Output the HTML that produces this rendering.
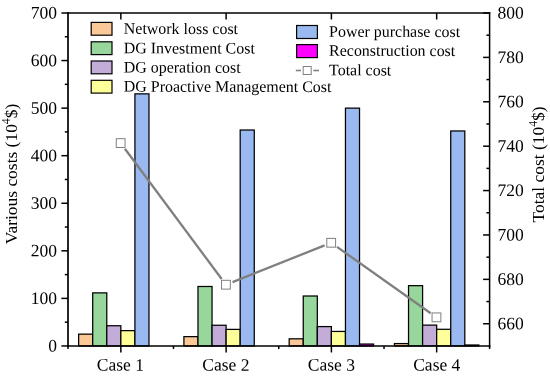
<!DOCTYPE html>
<html><head><meta charset="utf-8"><title>Costs chart</title>
<style>
html,body{margin:0;padding:0;background:#fff;}
svg{display:block;font-family:"Liberation Serif","Times New Roman",serif;fill:#000;}
</style></head><body>
<svg width="550" height="376" viewBox="0 0 550 376">
<rect x="0" y="0" width="550" height="376" fill="#fff"/>

<g stroke="#000" stroke-width="1.25">
<rect x="78.64" y="334.15" width="14.07" height="11.80" fill="#FBC898"/>
<rect x="92.71" y="292.87" width="14.07" height="53.08" fill="#98D79B"/>
<rect x="106.78" y="325.74" width="14.07" height="20.21" fill="#C3ADD8"/>
<rect x="120.85" y="330.63" width="14.07" height="15.32" fill="#FFFF99"/>
<rect x="134.92" y="93.86" width="14.07" height="252.09" fill="#99B9F0"/>
<rect x="183.91" y="336.63" width="14.07" height="9.32" fill="#FBC898"/>
<rect x="197.98" y="286.49" width="14.07" height="59.46" fill="#98D79B"/>
<rect x="212.05" y="325.26" width="14.07" height="20.69" fill="#C3ADD8"/>
<rect x="226.12" y="329.40" width="14.07" height="16.55" fill="#FFFF99"/>
<rect x="240.19" y="130.01" width="14.07" height="215.94" fill="#99B9F0"/>
<rect x="289.18" y="338.82" width="14.07" height="7.13" fill="#FBC898"/>
<rect x="303.25" y="296.01" width="14.07" height="49.94" fill="#98D79B"/>
<rect x="317.32" y="326.59" width="14.07" height="19.36" fill="#C3ADD8"/>
<rect x="331.39" y="331.44" width="14.07" height="14.51" fill="#FFFF99"/>
<rect x="345.46" y="108.13" width="14.07" height="237.82" fill="#99B9F0"/>
<rect x="359.53" y="344.05" width="14.07" height="1.90" fill="#FF00FF"/>
<rect x="394.45" y="343.57" width="14.07" height="2.38" fill="#FBC898"/>
<rect x="408.52" y="285.64" width="14.07" height="60.31" fill="#98D79B"/>
<rect x="422.59" y="325.12" width="14.07" height="20.83" fill="#C3ADD8"/>
<rect x="436.66" y="329.30" width="14.07" height="16.65" fill="#FFFF99"/>
<rect x="450.73" y="130.96" width="14.07" height="214.99" fill="#99B9F0"/>
<rect x="464.80" y="345.00" width="14.07" height="0.95" fill="#FF00FF"/>
</g>
<g stroke="#808080" stroke-width="2.3" fill="none">
<line x1="124.89" y1="148.79" x2="221.68" y2="279.01"/>
<line x1="232.52" y1="282.08" x2="324.59" y2="245.39"/>
<line x1="336.98" y1="246.86" x2="430.67" y2="313.23"/>
</g>
<g stroke="#808080" stroke-width="1" fill="#fff">
<rect x="116.25" y="138.69" width="8.8" height="8.8"/>
<rect x="221.52" y="280.31" width="8.8" height="8.8"/>
<rect x="326.79" y="238.36" width="8.8" height="8.8"/>
<rect x="432.06" y="312.94" width="8.8" height="8.8"/>
</g>
<g stroke="#000" stroke-width="1.5" fill="none">
<line x1="68.0" y1="12.25" x2="68.0" y2="346.7" stroke-width="1.7"/>
<line x1="489.6" y1="12.25" x2="489.6" y2="346.7"/>
<line x1="67.2" y1="13.0" x2="490.35" y2="13.0"/>
<line x1="67.2" y1="345.95" x2="490.35" y2="345.95"/>
<line x1="61.4" y1="345.95" x2="68.0" y2="345.95"/>
<line x1="64.8" y1="322.17" x2="68.0" y2="322.17"/>
<line x1="61.4" y1="298.39" x2="68.0" y2="298.39"/>
<line x1="64.8" y1="274.60" x2="68.0" y2="274.60"/>
<line x1="61.4" y1="250.82" x2="68.0" y2="250.82"/>
<line x1="64.8" y1="227.04" x2="68.0" y2="227.04"/>
<line x1="61.4" y1="203.26" x2="68.0" y2="203.26"/>
<line x1="64.8" y1="179.47" x2="68.0" y2="179.47"/>
<line x1="61.4" y1="155.69" x2="68.0" y2="155.69"/>
<line x1="64.8" y1="131.91" x2="68.0" y2="131.91"/>
<line x1="61.4" y1="108.13" x2="68.0" y2="108.13"/>
<line x1="64.8" y1="84.35" x2="68.0" y2="84.35"/>
<line x1="61.4" y1="60.56" x2="68.0" y2="60.56"/>
<line x1="64.8" y1="36.78" x2="68.0" y2="36.78"/>
<line x1="61.4" y1="13.00" x2="68.0" y2="13.00"/>
<line x1="483.1" y1="323.75" x2="489.6" y2="323.75"/>
<line x1="486.40000000000003" y1="301.56" x2="489.6" y2="301.56"/>
<line x1="483.1" y1="279.36" x2="489.6" y2="279.36"/>
<line x1="486.40000000000003" y1="257.16" x2="489.6" y2="257.16"/>
<line x1="483.1" y1="234.97" x2="489.6" y2="234.97"/>
<line x1="486.40000000000003" y1="212.77" x2="489.6" y2="212.77"/>
<line x1="483.1" y1="190.57" x2="489.6" y2="190.57"/>
<line x1="486.40000000000003" y1="168.38" x2="489.6" y2="168.38"/>
<line x1="483.1" y1="146.18" x2="489.6" y2="146.18"/>
<line x1="486.40000000000003" y1="123.98" x2="489.6" y2="123.98"/>
<line x1="483.1" y1="101.79" x2="489.6" y2="101.79"/>
<line x1="486.40000000000003" y1="79.59" x2="489.6" y2="79.59"/>
<line x1="483.1" y1="57.39" x2="489.6" y2="57.39"/>
<line x1="486.40000000000003" y1="35.20" x2="489.6" y2="35.20"/>
<line x1="483.1" y1="13.00" x2="489.6" y2="13.00"/>
<line x1="120.85" y1="345.95" x2="120.85" y2="352.45"/>
<line x1="120.85" y1="13.0" x2="120.85" y2="19.5"/>
<line x1="226.12" y1="345.95" x2="226.12" y2="352.45"/>
<line x1="226.12" y1="13.0" x2="226.12" y2="19.5"/>
<line x1="331.39" y1="345.95" x2="331.39" y2="352.45"/>
<line x1="331.39" y1="13.0" x2="331.39" y2="19.5"/>
<line x1="436.66" y1="345.95" x2="436.66" y2="352.45"/>
<line x1="436.66" y1="13.0" x2="436.66" y2="19.5"/>
<line x1="68.00" y1="345.95" x2="68.00" y2="348.95"/>
<line x1="173.48" y1="345.95" x2="173.48" y2="348.95"/>
<line x1="278.75" y1="345.95" x2="278.75" y2="348.95"/>
<line x1="384.02" y1="345.95" x2="384.02" y2="348.95"/>
<line x1="489.60" y1="345.95" x2="489.60" y2="348.95"/>
</g>
<g font-size="17.5px">
<text transform="translate(57.0,351.55) rotate(0.1)" text-anchor="end">0</text>
<text transform="translate(57.0,303.99) rotate(0.1)" text-anchor="end">100</text>
<text transform="translate(57.0,256.42) rotate(0.1)" text-anchor="end">200</text>
<text transform="translate(57.0,208.86) rotate(0.1)" text-anchor="end">300</text>
<text transform="translate(57.0,161.29) rotate(0.1)" text-anchor="end">400</text>
<text transform="translate(57.0,113.73) rotate(0.1)" text-anchor="end">500</text>
<text transform="translate(57.0,66.16) rotate(0.1)" text-anchor="end">600</text>
<text transform="translate(57.0,18.60) rotate(0.1)" text-anchor="end">700</text>
<text transform="translate(497.5,329.25) rotate(0.1)">660</text>
<text transform="translate(497.5,284.86) rotate(0.1)">680</text>
<text transform="translate(497.5,240.47) rotate(0.1)">700</text>
<text transform="translate(497.5,196.07) rotate(0.1)">720</text>
<text transform="translate(497.5,151.68) rotate(0.1)">740</text>
<text transform="translate(497.5,107.29) rotate(0.1)">760</text>
<text transform="translate(497.5,62.89) rotate(0.1)">780</text>
<text transform="translate(497.5,18.50) rotate(0.1)">800</text>
</g>
<g font-size="17.5px" text-anchor="middle">
<text transform="translate(120.45,370.6) rotate(0.1)">Case 1</text>
<text transform="translate(225.89,370.6) rotate(0.1)">Case 2</text>
<text transform="translate(331.33,370.6) rotate(0.1)">Case 3</text>
<text transform="translate(436.77,370.6) rotate(0.1)">Case 4</text>
</g>
<g font-size="17.45px" text-anchor="middle">
<text transform="translate(17.1,174.0) rotate(-90)">Various costs (10<tspan font-size="11.7px" dy="-7.2">4</tspan><tspan dy="7.2">$)</tspan></text>
<text transform="translate(544.4,164.4) rotate(-90)">Total cost (10<tspan font-size="11.7px" dy="-7.2">4</tspan><tspan dy="7.2">$)</tspan></text>
</g>
<g stroke="#000" stroke-width="1.2">
<rect x="91.2" y="22.40" width="20.8" height="12.8" fill="#FBC898"/>
<rect x="91.2" y="41.80" width="20.8" height="12.8" fill="#98D79B"/>
<rect x="91.2" y="61.00" width="20.8" height="12.8" fill="#C3ADD8"/>
<rect x="91.2" y="80.30" width="20.8" height="12.8" fill="#FFFF99"/>
<rect x="296.6" y="25.50" width="20.8" height="13.0" fill="#99B9F0"/>
<rect x="296.6" y="44.60" width="20.8" height="13.0" fill="#FF00FF"/>
</g>
<g stroke="#808080" fill="#fff"><line x1="295.8" y1="70.5" x2="301.0" y2="70.5" stroke-width="1.6"/><line x1="313.4" y1="70.5" x2="319.0" y2="70.5" stroke-width="1.6"/><rect x="303.2" y="66.5" width="8" height="8" stroke-width="1"/></g>
<g font-size="15.95px">
<text transform="translate(123.8,33.8) rotate(0.1)">Network loss cost</text>
<text transform="translate(123.8,53.3) rotate(0.1)">DG Investment Cost</text>
<text transform="translate(123.8,72.5) rotate(0.1)">DG operation cost</text>
<text transform="translate(123.8,91.6) rotate(0.1)">DG Proactive Management Cost</text>
<text transform="translate(329.1,36.7) rotate(0.1)">Power purchase cost</text>
<text transform="translate(329.1,55.7) rotate(0.1)">Reconstruction cost</text>
<text transform="translate(329.1,75.3) rotate(0.1)">Total cost</text>
</g>
</svg></body></html>
